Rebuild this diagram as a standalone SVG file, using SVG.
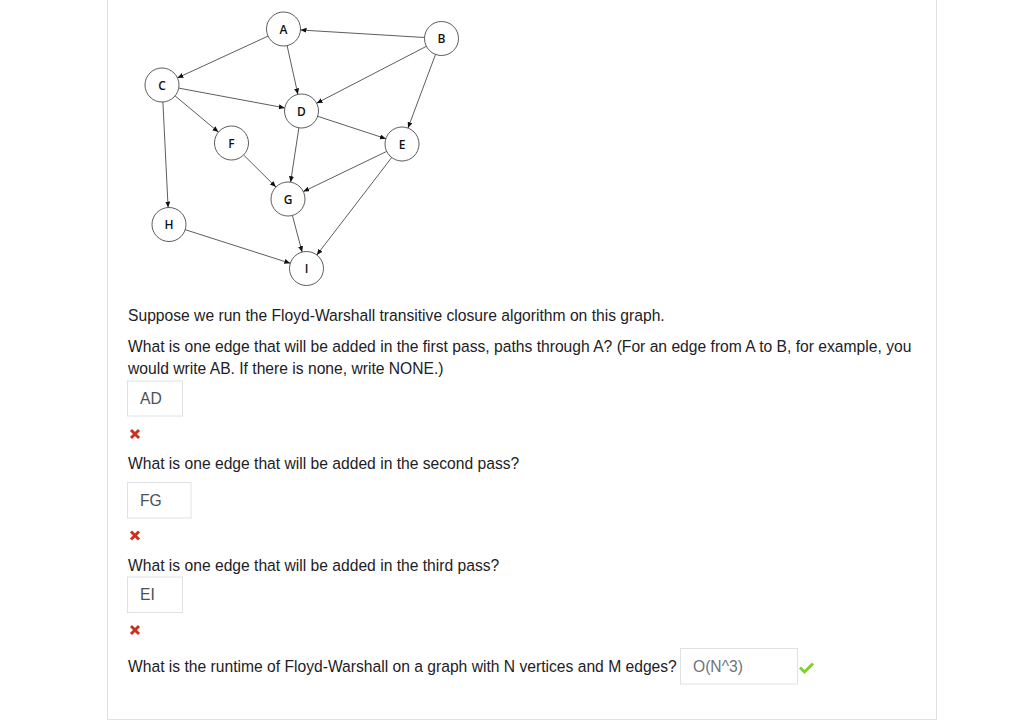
<svg xmlns="http://www.w3.org/2000/svg" width="1024" height="722" viewBox="0 0 1024 722">
<style>
.node circle{fill:#fff;stroke:#333;stroke-width:0.8}
.node text{font-family:"Open Sans","Noto Sans",sans-serif;font-size:12px;font-weight:600;fill:#111;text-anchor:middle;dominant-baseline:central}
.edge{stroke:#333;stroke-width:0.8;fill:none;marker-end:url(#arr)}
.q{font-family:"Liberation Sans",Arial,sans-serif;font-size:15.65px;fill:#1d2125}
.box{fill:#fff;stroke:#dee2e6;stroke-width:1}
.ans{font-family:"Liberation Sans",Arial,sans-serif;font-size:15.65px;fill:#495057}
.x{stroke:#ca3120;stroke-width:3;stroke-linecap:butt}
</style>
<defs>
<marker id="arr" markerUnits="userSpaceOnUse" markerWidth="7" markerHeight="6" refX="6" refY="2.5" orient="auto">
<path d="M0,0 L6,2.5 L0,5 z" fill="#111"/>
</marker>
</defs>
<rect x="0" y="0" width="1024" height="722" fill="#fff"/>
<rect x="107.5" y="-5" width="829" height="724.5" fill="#fff" stroke="#dee2e6" stroke-width="1"/>
<g id="connectors">
<line class="edge" x1="424.5" y1="37.5" x2="300.5" y2="30"/>
<line class="edge" x1="268.1" y1="36.1" x2="177.4" y2="77.9"/>
<line class="edge" x1="287.1" y1="45.6" x2="297.9" y2="94.4"/>
<line class="edge" x1="426.4" y1="46.3" x2="316.6" y2="103.2"/>
<line class="edge" x1="435.5" y1="54.4" x2="408" y2="128.1"/>
<line class="edge" x1="178.7" y1="88.1" x2="284.8" y2="107.9"/>
<line class="edge" x1="175.1" y1="95.9" x2="218.4" y2="132.1"/>
<line class="edge" x1="162.9" y1="102" x2="168.1" y2="207.5"/>
<line class="edge" x1="317.7" y1="116.3" x2="385.9" y2="138.7"/>
<line class="edge" x1="298.9" y1="127.8" x2="290.6" y2="182.2"/>
<line class="edge" x1="243.6" y1="155" x2="275.9" y2="187"/>
<line class="edge" x1="386.7" y1="151.4" x2="303.3" y2="191.6"/>
<line class="edge" x1="391.7" y1="157.5" x2="316.8" y2="255"/>
<line class="edge" x1="292.4" y1="215.4" x2="302.1" y2="252.1"/>
<line class="edge" x1="185.2" y1="229.7" x2="290.3" y2="263.3"/>
</g>
<g id="node-A" class="node"><circle cx="283.5" cy="29" r="17"/><text x="283.5" y="29">A</text></g>
<g id="node-B" class="node"><circle cx="441.5" cy="38.5" r="17"/><text x="441.5" y="38.5">B</text></g>
<g id="node-C" class="node"><circle cx="162" cy="85" r="17"/><text x="162" y="85">C</text></g>
<g id="node-D" class="node"><circle cx="301.5" cy="111" r="17"/><text x="301.5" y="111">D</text></g>
<g id="node-E" class="node"><circle cx="402" cy="144" r="17"/><text x="402" y="144">E</text></g>
<g id="node-F" class="node"><circle cx="231.5" cy="143" r="17"/><text x="231.5" y="143">F</text></g>
<g id="node-G" class="node"><circle cx="288" cy="199" r="17"/><text x="288" y="199">G</text></g>
<g id="node-H" class="node"><circle cx="169" cy="224.5" r="17"/><text x="169" y="224.5">H</text></g>
<g id="node-I" class="node"><circle cx="306.5" cy="268.5" r="17"/><text x="306.5" y="268.5">I</text></g>
<g id="questions">
<text class="q" x="128" y="321">Suppose we run the Floyd-Warshall transitive closure algorithm on this graph.</text>
<text class="q" x="128" y="352">What is one edge that will be added in the first pass, paths through A? (For an edge from A to B, for example, you</text>
<text class="q" x="128" y="374">would write AB. If there is none, write NONE.)</text>
<rect class="box" x="127.5" y="381" width="55" height="35"/>
<text class="ans" x="140" y="404">AD</text>
<g transform="translate(135,434)"><path class="x" d="M-4,-4 L4,4 M4,-4 L-4,4"/></g>
<text class="q" x="128" y="469">What is one edge that will be added in the second pass?</text>
<rect class="box" x="127.5" y="482.5" width="63.5" height="35.5"/>
<text class="ans" x="140" y="506">FG</text>
<g transform="translate(135,535.5)"><path class="x" d="M-4,-4 L4,4 M4,-4 L-4,4"/></g>
<text class="q" x="128" y="571">What is one edge that will be added in the third pass?</text>
<rect class="box" x="127.5" y="577" width="55" height="35.5"/>
<text class="ans" x="140" y="600">EI</text>
<g transform="translate(135,630)"><path class="x" d="M-4,-4 L4,4 M4,-4 L-4,4"/></g>
<text class="q" x="128" y="672">What is the runtime of Floyd-Warshall on a graph with N vertices and M edges?</text>
<rect class="box" x="680.5" y="648.5" width="117" height="35.5"/>
<text class="ans" x="693" y="672" style="fill:#6c757d">O(N^3)</text>
<path d="M800,667.5 L804.5,672 L813,663.5" fill="none" stroke="#7ed321" stroke-width="3"/>
</g>
</svg>
